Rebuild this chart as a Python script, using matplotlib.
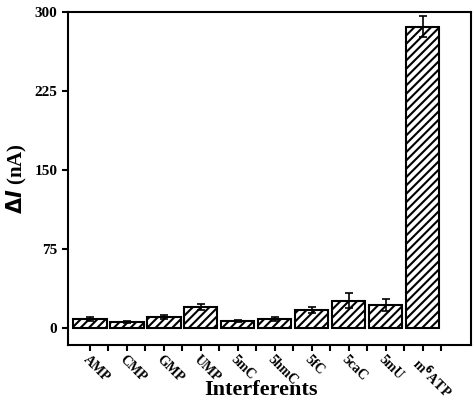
import matplotlib
matplotlib.use("Agg")
import matplotlib.pyplot as plt
import numpy as np

categories = ["AMP", "CMP", "GMP", "UMP", "5mC", "5hmC", "5fC", "5caC", "5mU", "m$^{6}$ATP"]
values = [9, 6, 11, 20, 7, 9, 17, 26, 22, 286]
errors = [2, 1, 2, 3, 1, 2, 3, 7, 6, 10]
yticks = [0, 75, 150, 225, 300]

plt.rcParams['font.family'] = ['Liberation Serif', 'DejaVu Serif']
plt.rcParams['font.weight'] = 'bold'
plt.rcParams['hatch.linewidth'] = 1.5

fig = plt.figure(figsize=(4.74, 4.05), dpi=100)
ax = fig.add_axes([0.143, 0.148, 0.85, 0.822])
x = np.arange(len(categories))
ax.bar(x, values, width=0.9, color='white', edgecolor='black', hatch='////', linewidth=1.5,
       yerr=errors, capsize=3, error_kw=dict(elinewidth=1.2, capthick=1.2, ecolor='black'))
ax.set_xlim(-0.6, 10.3)
ax.set_ylim(-16, 300)
ax.set_yticks(yticks)
ax.set_xticks(x)
ax.set_xticks(x + 0.5, minor=True)
ax.set_xticklabels(categories, rotation=-45, ha='left', rotation_mode='anchor', fontsize=10, fontweight='bold')
ax.tick_params(axis='y', labelsize=11, width=1.5, length=4)
ax.tick_params(axis='x', which='both', width=1.5, length=4, pad=2)
for s in ax.spines.values():
    s.set_linewidth(1.5)
ax.set_ylabel(r"$\Delta$$\mathit{I}$ (nA)", fontsize=15, fontweight='bold')
fig.text(0.55, 0.012, "Interferents", ha='center', va='bottom', fontsize=16, fontweight='bold')
fig.savefig("out.png", dpi=100)
